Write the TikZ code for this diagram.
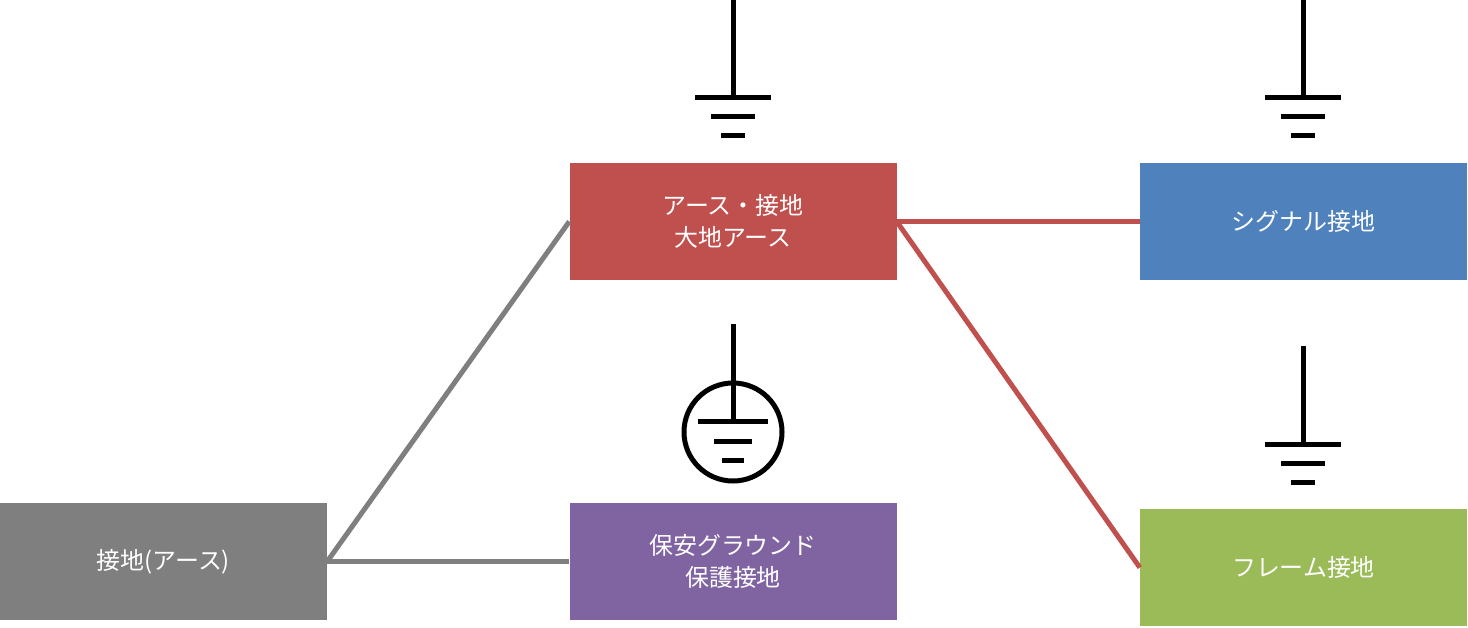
\documentclass[tikz,border=0pt]{standalone}
\usepackage{fontspec}
\setmainfont{Noto Sans CJK JP}
\definecolor{cgray}{HTML}{7F7F7F}
\definecolor{cred}{HTML}{C0504D}
\definecolor{cpurple}{HTML}{8064A2}
\definecolor{cblue}{HTML}{4F81BD}
\definecolor{cgreen}{HTML}{9BBB59}
\begin{document}
\begin{tikzpicture}[x=1bp,y=-1bp,
  box/.style={minimum width=327bp,minimum height=117bp,inner sep=0,text=white,align=center,font=\fontsize{24}{32}\selectfont},
  gnd/.style={line width=5bp,black}]
\useasboundingbox (0,0) rectangle (1468,628);
\node[box,fill=cgray] (g) at (163.5,561.5) {接地(アース)};
\node[box,fill=cred] (r) at (733,221.5) {アース・接地\\大地アース};
\node[box,fill=cpurple] (p) at (733,561.5) {保安グラウンド\\保護接地};
\node[box,fill=cblue] (b) at (1303.5,221.5) {シグナル接地};
\node[box,fill=cgreen] (gr) at (1303.5,567.5) {フレーム接地};
\draw[cgray,line width=5bp] (g.east) -- (r.west);
\draw[cgray,line width=5bp] (g.east) -- (p.west);
\draw[cred,line width=5bp] (r.east) -- (b.west);
\draw[cred,line width=5bp] (r.east) -- (gr.west);
\foreach \x/\y in {733/0,1303/0,1303/346}{
  \draw[gnd] (\x,\y) -- (\x,\y+98);
  \draw[gnd] (\x-38,\y+98) -- (\x+38,\y+98);
  \draw[gnd] (\x-22,\y+117) -- (\x+22,\y+117);
  \draw[gnd] (\x-12,\y+136) -- (\x+12,\y+136);
}
\draw[gnd] (733,324) -- (733,421);
\draw[gnd] (733,432) circle (49);
\draw[gnd] (698,421) -- (768,421);
\draw[gnd] (714,441) -- (752,441);
\draw[gnd] (722,460) -- (744,460);
\end{tikzpicture}
\end{document}
